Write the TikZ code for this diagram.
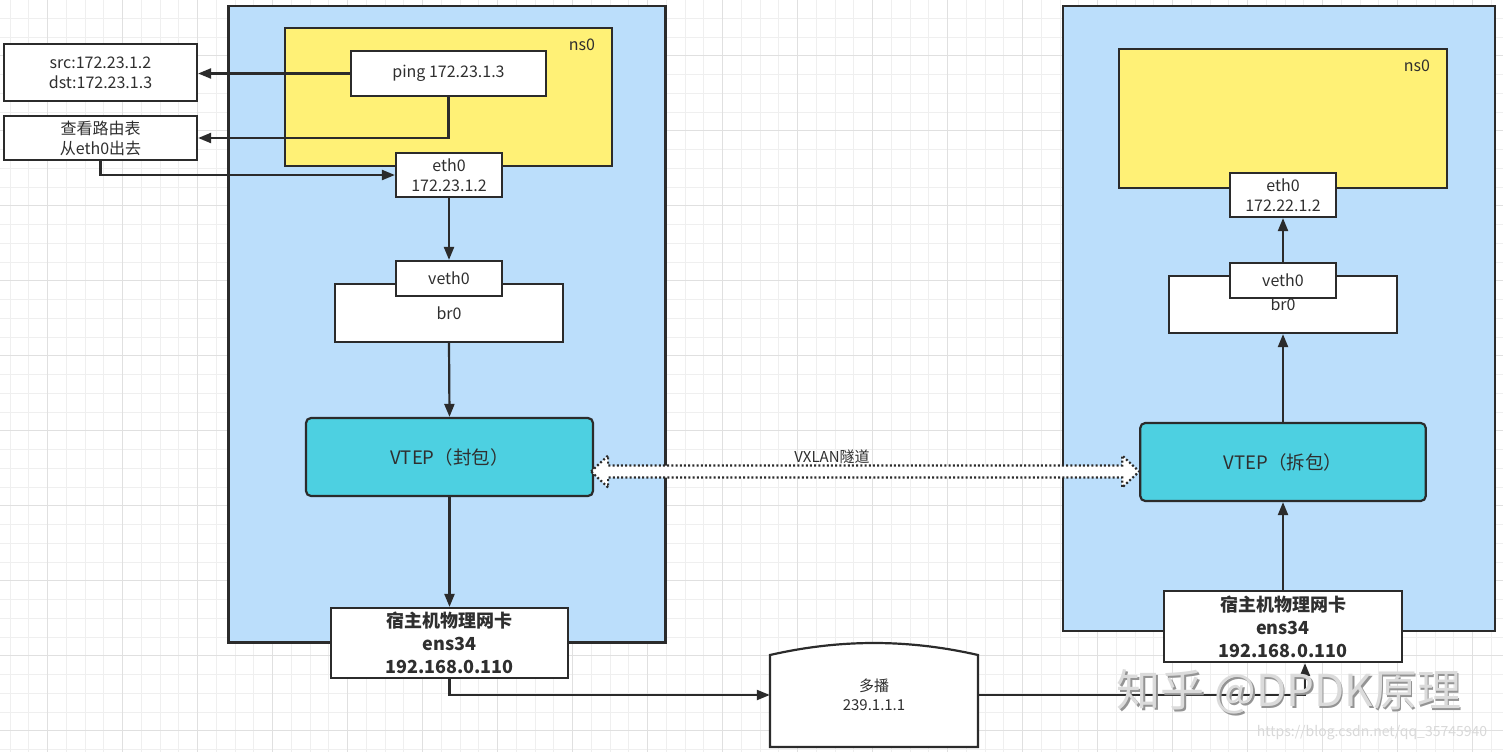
\documentclass[tikz,border=0pt]{standalone}
\usepackage{fontspec}
\setmainfont{Noto Sans CJK SC}
\usetikzlibrary{arrows.meta,calc}
\newcommand{\fsz}[2]{\fontsize{#1pt}{#2pt}\selectfont}
\definecolor{hostblue}{HTML}{BBDEFB}
\definecolor{nsyellow}{HTML}{FFF176}
\definecolor{vtepcyan}{HTML}{4DD0E1}
\definecolor{edge}{HTML}{2B2B2B}
\definecolor{txt}{HTML}{2F2F2F}
\definecolor{gminor}{HTML}{EFEFEF}
\definecolor{gmajor}{HTML}{E0E0E0}
\begin{document}
\begin{tikzpicture}[x=1pt,y=-1pt,
  gridminor/.style={draw=gminor,line width=1pt},
  gridmajor/.style={draw=gmajor,line width=1pt},
  hostbox/.style={draw=edge,line width=2.2pt,fill=hostblue,inner sep=0pt},
  nsbox/.style={draw=edge,line width=2.2pt,fill=nsyellow,inner sep=0pt},
  box/.style={draw=edge,line width=2.2pt,fill=white,inner sep=0pt,align=center,text=txt,font=\fsz{16}{20}},
  nicbox/.style={box,font=\fsz{18}{23}\bfseries},
  vtepbox/.style={draw=edge,line width=2.2pt,fill=vtepcyan,rounded corners=5pt,inner sep=0pt,align=center,text=txt,font=\fsz{18.5}{22}},
  lbl/.style={inner sep=0pt,text=txt,font=\fsz{16}{20},align=center},
  conn/.style={draw=edge,line width=2.2pt,-{Triangle[length=13pt,width=10pt]}},
  vx/.style={draw=edge,line width=2.2pt,dash pattern=on 2pt off 2.2pt,fill=white}
]
\useasboundingbox (0,0) rectangle (1503,752);
\fill[white] (0,0) rectangle (1503,752);
% grid
\foreach \i in {0,...,79} \draw[gridminor] ({10+18.75*\i},0) -- ({10+18.75*\i},752);
\foreach \j in {0,...,40} \draw[gridminor] (0,{-0.45+18.75*\j}) -- (1503,{-0.45+18.75*\j});
\foreach \i in {0,...,19} \draw[gridmajor] ({47.5+75*\i},0) -- ({47.5+75*\i},752);
\foreach \j in {0,...,9} \draw[gridmajor] (0,{55.8+75*\j}) -- (1503,{55.8+75*\j});

% hosts
\node[hostbox,minimum width=437pt,minimum height=636.5pt] (hostL) at (447,324.25) {};
\node[hostbox,minimum width=432pt,minimum height=625pt] (hostR) at (1279,318.5) {};
% namespaces
\node[nsbox,minimum width=327pt,minimum height=138pt] (nsL) at (448.5,97) {};
\node[nsbox,minimum width=328pt,minimum height=139pt] (nsR) at (1283,118.5) {};
\node[lbl] (nsLl) at (582,45) {ns0};
\node[lbl] (nsRl) at (1417,66) {ns0};

% left side
\node[box,minimum width=195pt,minimum height=45pt] (ping) at (448.5,73.5) {ping 172.23.1.3};
\node[box,minimum width=193pt,minimum height=57pt] (src) at (100.5,72.5) {src:172.23.1.2\\dst:172.23.1.3};
\node[box,minimum width=193pt,minimum height=44pt] (route) at (100.5,138) {查看路由表\\从eth0出去};
\node[box,minimum width=106pt,minimum height=44pt] (eth0L) at (449,175) {eth0\\172.23.1.2};
\node[box,minimum width=228pt,minimum height=58pt] (brL) at (449,313) {br0};
\node[box,minimum width=106pt,minimum height=35pt] (vethL) at (449,278.5) {veth0};
\node[vtepbox,minimum width=287pt,minimum height=78pt] (vtepL) at (449.5,457) {VTEP（封包）};
\node[nicbox,minimum width=237pt,minimum height=70pt] (nicL) at (449.5,643) {宿主机物理网卡\\ens34\\192.168.0.110};

% multicast
\draw[draw=edge,line width=2.2pt,fill=white] (770,747) -- (770,655) .. controls (840,639) and (908,639) .. (978,655) -- (978,747) -- cycle;
\node[lbl,minimum width=208pt,minimum height=104pt,font=\fsz{15}{19}] (mc) at (874,695) {多播\\239.1.1.1};

% right side
\node[box,minimum width=106pt,minimum height=44pt] (eth0R) at (1283,195) {eth0\\172.22.1.2};
\node[box,minimum width=228pt,minimum height=57pt] (brR) at (1283,304.5) {br0};
\node[box,minimum width=106pt,minimum height=35pt] (vethR) at (1283,280.5) {veth0};
\node[vtepbox,minimum width=285.5pt,minimum height=78pt] (vtepR) at (1283,462) {VTEP（拆包）};
\node[nicbox,minimum width=237.5pt,minimum height=71pt] (nicR) at (1283,626.5) {宿主机物理网卡\\ens34\\192.168.0.110};

% connectors
\draw[conn] (ping.west) -- (ping.west -| src.east);
\draw[conn] (ping.south) |- (route.east);
\draw[conn] (route.south) |- (eth0L.west);
\draw[conn] (eth0L.south) -- (vethL.north);
\draw[conn] (brL.south) -- (vtepL.north);
\draw[conn] (vtepL.south) -- (nicL.north);
\draw[conn] (nicL.south) |- (mc.west);
\draw[conn] (mc.east) -| ([xshift=22pt]nicR.south);
\draw[conn] (nicR.north) -- (vtepR.south);
\draw[conn] (vtepR.north) -- (brR.south);
\draw[conn] (vethR.north) -- (eth0R.south);

% VXLAN tunnel
\coordinate (vxa) at ([xshift=-3pt,yshift=-14.5pt]vtepL.east);
\coordinate (vxb) at ([xshift=0pt,yshift=-9.5pt]vtepR.west);
\draw[vx] (vxa) -- ++(17,-16) -- ++(0,10) -- ($(vxb)+(-17,-6)$) -- ++(0,-10) -- (vxb) -- ++(-17,16) -- ++(0,-10) -- ($(vxa)+(17,6)$) -- ++(0,10) -- cycle;
\node[lbl,font=\fsz{15}{19}] (vxl) at (832,457) {VXLAN隧道};

% watermarks
\node[inner sep=0pt,font=\fsz{44}{50},text=black!42] (wms) at (1290.5,693.5) {知乎 @DPDK原理};
\node[inner sep=0pt,font=\fsz{44}{50},text=black!14] (wm) at (1289,692) {知乎 @DPDK原理};
\node[inner sep=0pt,font=\fsz{14}{16},text=black!15] (url) at (1372,733) {https://blog.csdn.net/qq\_35745940};
\end{tikzpicture}
\end{document}
